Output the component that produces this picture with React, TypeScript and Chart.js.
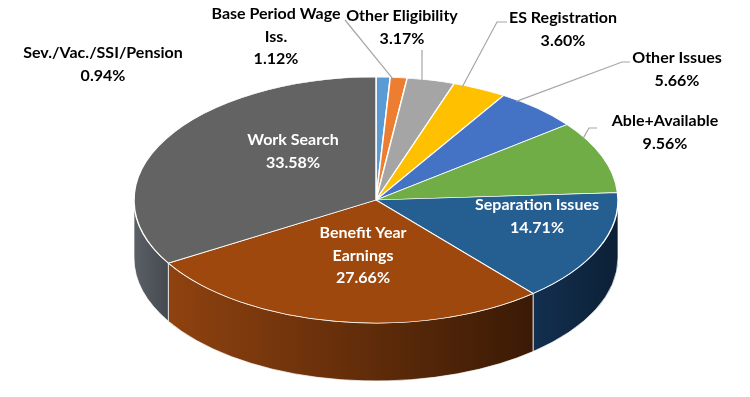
import React, { useEffect, useRef } from 'react';
import { Chart, registerables } from 'chart.js';
Chart.register(...registerables);

const categories = [
  'Sev./Vac./SSI/Pension',
  'Base Period Wage Iss.',
  'Other Eligibility',
  'ES Registration',
  'Other Issues',
  'Able+Available',
  'Separation Issues',
  'Benefit Year Earnings',
  'Work Search',
];
const values = [0.94, 1.12, 3.17, 3.6, 5.66, 9.56, 14.71, 27.66, 33.58];
const labelLines = [
  ['Sev./Vac./SSI/Pension'],
  ['Base Period Wage', 'Iss.'],
  ['Other Eligibility'],
  ['ES Registration'],
  ['Other Issues'],
  ['Able+Available'],
  ['Separation Issues'],
  ['Benefit Year', 'Earnings'],
  ['Work Search'],
];
const topColors = ['#5B9BD5', '#ED7D31', '#A5A5A5', '#FFC000', '#4472C4', '#70AD47', '#255E91', '#9E480E', '#636363'];
const sideColors: [string, string][] = [
  ['#3f6f9c', '#2c4f70'],
  ['#b15a20', '#7a3c12'],
  ['#7c7c7c', '#5a5a5a'],
  ['#c49200', '#8a6600'],
  ['#2f5597', '#1f3864'],
  ['#4f7f31', '#375a22'],
  ['#132f4f', '#0c2036'],
  ['#8f420f', '#3a1a05'],
  ['#5a6066', '#454a50'],
];

// label placement (text layout only); "at" = where along the slice's arc the leader meets it
const labelPos: { x: number; y: number; inside: boolean; leader: number[][] | null; at: number }[] = [
  { x: 103, y: 53, inside: false, leader: null, at: 0.5 },
  { x: 276, y: 14, inside: false, leader: [[345, 20]], at: 0.15 },
  { x: 402, y: 16, inside: false, leader: [[422, 50]], at: 0.32 },
  { x: 563, y: 18, inside: false, leader: [[507, 22], [497, 22]], at: 0.18 },
  { x: 677, y: 58, inside: false, leader: [[630, 62], [622, 62]], at: 0.2 },
  { x: 665, y: 121, inside: false, leader: [[597, 128], [589, 128]], at: 0.22 },
  { x: 537, y: 205, inside: true, leader: null, at: 0.5 },
  { x: 363, y: 233, inside: true, leader: null, at: 0.5 },
  { x: 293, y: 140, inside: true, leader: null, at: 0.5 },
];

const CX = 376, CY = 200, RX = 242, RY = 123, DEPTH = 58;
const LINE_H = 22.5;
const FONT = "bold 16px Lato, 'Open Sans', sans-serif";

const pie3d = {
  id: 'pie3d',
  beforeDatasetsDraw(chart: any) {
    const ctx = chart.ctx as CanvasRenderingContext2D;
    const meta = chart.getDatasetMeta(0);
    meta.data.forEach((arc: any, i: number) => {
      for (const k of [-1, 0, 1]) {
        const s = arc.startAngle + 2 * Math.PI * k;
        const e = arc.endAngle + 2 * Math.PI * k;
        const lo = Math.max(s, 0);
        const hi = Math.min(e, Math.PI);
        if (hi <= lo) continue;
        const x0 = CX + RX * Math.cos(lo);
        const x1 = CX + RX * Math.cos(hi);
        const g = ctx.createLinearGradient(Math.min(x0, x1), 0, Math.max(x0, x1), 0);
        g.addColorStop(0, sideColors[i][0]);
        g.addColorStop(1, sideColors[i][1]);
        ctx.save();
        ctx.beginPath();
        ctx.ellipse(CX, CY, RX, RY, 0, lo, hi);
        ctx.ellipse(CX, CY + DEPTH, RX, RY, 0, hi, lo, true);
        ctx.closePath();
        ctx.fillStyle = g;
        ctx.fill();
        ctx.strokeStyle = 'rgba(255,255,255,0.7)';
        ctx.lineWidth = 1;
        ctx.stroke();
        ctx.restore();
      }
    });
    const a0 = meta.data[0];
    const r = a0.outerRadius;
    ctx.save();
    ctx.translate(CX, CY);
    ctx.scale(RX / r, RY / r);
    ctx.translate(-a0.x, -a0.y);
  },
  afterDatasetsDraw(chart: any) {
    const ctx = chart.ctx as CanvasRenderingContext2D;
    ctx.restore();
    const meta = chart.getDatasetMeta(0);
    ctx.save();
    ctx.font = FONT;
    ctx.textAlign = 'center';
    ctx.textBaseline = 'middle';
    meta.data.forEach((arc: any, i: number) => {
      const lp = labelPos[i];
      if (lp.leader) {
        const ang = arc.startAngle + (arc.endAngle - arc.startAngle) * lp.at;
        const ex = CX + RX * 0.99 * Math.cos(ang);
        const ey = CY + RY * 0.99 * Math.sin(ang);
        ctx.beginPath();
        ctx.moveTo(lp.leader[0][0], lp.leader[0][1]);
        for (let j = 1; j < lp.leader.length; j++) ctx.lineTo(lp.leader[j][0], lp.leader[j][1]);
        ctx.lineTo(ex, ey);
        ctx.strokeStyle = '#a6a6a6';
        ctx.lineWidth = 1.2;
        ctx.stroke();
      }
      const lines = [...labelLines[i], values[i].toFixed(2) + '%'];
      ctx.fillStyle = lp.inside ? '#ffffff' : '#000000';
      lines.forEach((t, j) => ctx.fillText(t, lp.x, lp.y + j * LINE_H));
    });
    ctx.restore();
  },
};

export default function App() {
  const ref = useRef<HTMLCanvasElement>(null);
  useEffect(() => {
    document.body.style.margin = '0';
    const chart = new Chart(ref.current!, {
      type: 'pie',
      data: {
        labels: categories,
        datasets: [
          {
            data: values,
            backgroundColor: topColors,
            borderColor: '#ffffff',
            borderWidth: 1.2,
          },
        ],
      },
      options: {
        responsive: false,
        animation: false,
        devicePixelRatio: 1,
        plugins: { legend: { display: false }, tooltip: { enabled: false } },
        events: [],
      },
      plugins: [pie3d],
    });
    return () => chart.destroy();
  }, []);
  return (
    <div style={{ width: 750, height: 397, background: '#fff' }}>
      <canvas ref={ref} width={750} height={397} style={{ display: 'block' }} />
    </div>
  );
}
